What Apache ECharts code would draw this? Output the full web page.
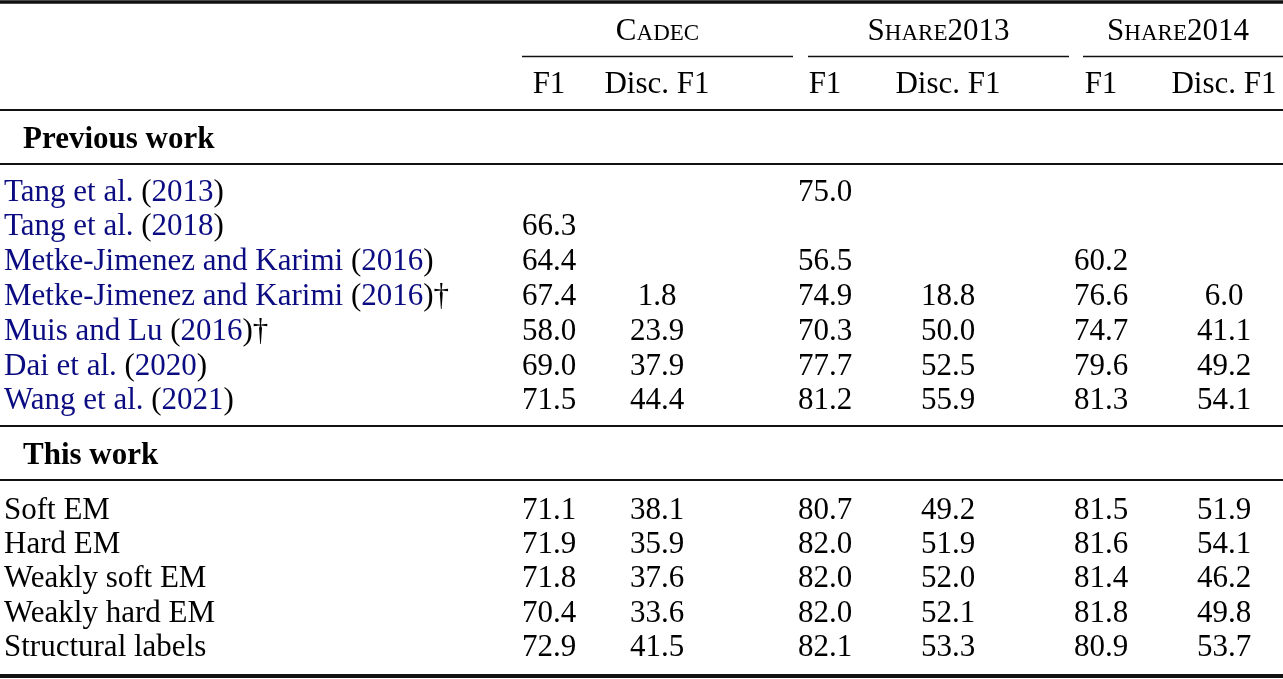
<!DOCTYPE html>
<html>
<head>
<meta charset="utf-8">
<title>Results table</title>
<script src="https://cdn.jsdelivr.net/npm/echarts@6/dist/echarts.min.js"></script>
<style>
  html, body { margin: 0; padding: 0; background: #fff; }
  #main { width: 1283px; height: 679px; }
</style>
</head>
<body>
<div id="main"></div>
<script>
// ---- data ----
const groups = ['Cadec', 'Share2013', 'Share2014'];   // shown in small caps
const subHeaders = ['F1', 'Disc. F1'];
const sections = ['Previous work', 'This work'];

const prevAuthors = ['Tang et al.', 'Tang et al.', 'Metke-Jimenez and Karimi', 'Metke-Jimenez and Karimi',
  'Muis and Lu', 'Dai et al.', 'Wang et al.'];
const prevYears = ['2013', '2018', '2016', '2016', '2016', '2020', '2021'];
const prevMarks = ['', '', '', '†', '†', '', ''];
// columns: Cadec F1, Cadec Disc. F1, Share2013 F1, Share2013 Disc. F1, Share2014 F1, Share2014 Disc. F1
const prevScores = [
  [null, null, 75.0, null, null, null],
  [66.3, null, null, null, null, null],
  [64.4, null, 56.5, null, 60.2, null],
  [67.4, 1.8, 74.9, 18.8, 76.6, 6.0],
  [58.0, 23.9, 70.3, 50.0, 74.7, 41.1],
  [69.0, 37.9, 77.7, 52.5, 79.6, 49.2],
  [71.5, 44.4, 81.2, 55.9, 81.3, 54.1]
];

const ourMethods = ['Soft EM', 'Hard EM', 'Weakly soft EM', 'Weakly hard EM', 'Structural labels'];
const ourScores = [
  [71.1, 38.1, 80.7, 49.2, 81.5, 51.9],
  [71.9, 35.9, 82.0, 51.9, 81.6, 54.1],
  [71.8, 37.6, 82.0, 52.0, 81.4, 46.2],
  [70.4, 33.6, 82.0, 52.1, 81.8, 49.8],
  [72.9, 41.5, 82.1, 53.3, 80.9, 53.7]
];

// ---- layout ----
const W = 1283, H = 679;
const nameX = 4, sectionX = 23;
const colX = [549, 657, 825, 948, 1101, 1224];
const groupSpan = [[522, 793], [808, 1069], [1083, 1283]];
const groupY = 32, subY = 85;
const sectionY = [139.5, 455.5];
const prevY0 = 192.5, prevStep = 34.8;
const ourY0 = 510.5, ourStep = 34.3;
const FONT = 'Liberation Serif, Times New Roman, serif';
const FS = 31;
const LINK = '#0b0b82';

// 小型大写: 小写字母段缩小显示
function smallCaps(s) {
  return s.match(/[a-z]+|[^a-z]+/g).map(function (run) {
    return /[a-z]/.test(run) ? '{sc|' + run.toUpperCase() + '}' : '{n|' + run + '}';
  }).join('');
}

const cells = [];
function cell(x, y, text, opt) {
  cells.push({ value: [x, y], label: Object.assign({ formatter: text }, opt || {}) });
}

// header
groups.forEach(function (g, i) {
  const cx = (groupSpan[i][0] + groupSpan[i][1]) / 2 + (i === 2 ? -5 : 0);
  cell(cx, groupY, smallCaps(g));
});
colX.forEach(function (x, j) {
  cell(x, subY, subHeaders[j % 2]);
});

// sections
sections.forEach(function (s, i) {
  cell(sectionX, sectionY[i], s, { position: 'right', distance: 0, fontWeight: 'bold' });
});

// previous work rows
prevAuthors.forEach(function (a, i) {
  const y = prevY0 + i * prevStep;
  const txt = '{l|' + a + ' }{n|(}{l|' + prevYears[i] + '}{n|)' + prevMarks[i] + '}';
  cell(nameX, y, txt, { position: 'right', distance: 0 });
  prevScores[i].forEach(function (v, j) {
    if (v !== null) cell(colX[j], y, v.toFixed(1));
  });
});

// this work rows
ourMethods.forEach(function (m, i) {
  const y = ourY0 + i * ourStep;
  cell(nameX, y, m, { position: 'right', distance: 0 });
  ourScores[i].forEach(function (v, j) {
    cell(colX[j], y, v.toFixed(1));
  });
});

// rules
function rule(x1, x2, y, w) {
  return [{ coord: [x1, y], lineStyle: { width: w } }, { coord: [x2, y] }];
}
const rules = [
  rule(0, W, 1.5, 3.5),
  rule(0, W, 110, 1.8),
  rule(0, W, 164, 1.8),
  rule(0, W, 426, 1.8),
  rule(0, W, 480, 1.8),
  rule(0, W, 675.5, 4)
].concat(groupSpan.map(function (sp) { return rule(sp[0], sp[1], 56.5, 1.4); }));

const chart = echarts.init(document.getElementById('main'));
chart.setOption({
  animation: false,
  grid: { left: 0, right: 0, top: 0, bottom: 0 },
  xAxis: { type: 'value', min: 0, max: W, show: false },
  yAxis: { type: 'value', min: 0, max: H, inverse: true, show: false },
  series: [{
    type: 'scatter',
    silent: true,
    symbolSize: 0,
    itemStyle: { opacity: 1 },
    data: cells,
    label: {
      show: true,
      position: 'inside',
      color: '#000',
      opacity: 1,
      fontFamily: FONT,
      fontSize: FS,
      rich: {
        n: { fontFamily: FONT, fontSize: FS, color: '#000' },
        l: { fontFamily: FONT, fontSize: FS, color: LINK },
        sc: { fontFamily: FONT, fontSize: 23, color: '#000', verticalAlign: 'bottom', padding: [0, 0, 2, 0] }
      }
    },
    markLine: {
      silent: true,
      symbol: 'none',
      label: { show: false },
      lineStyle: { color: '#111', type: 'solid', width: 1.8, opacity: 1 },
      data: rules
    }
  }]
});
</script>
</body>
</html>
